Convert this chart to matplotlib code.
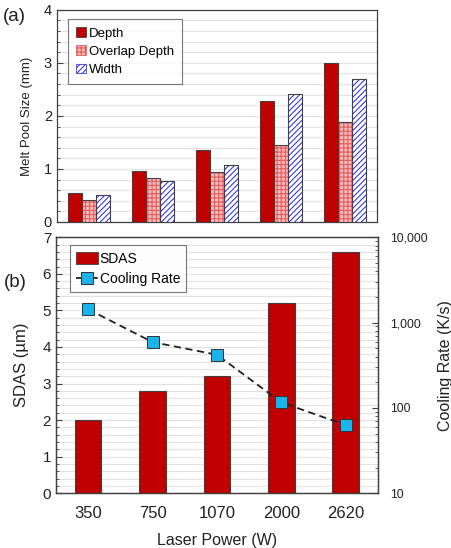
import numpy as np
import matplotlib
matplotlib.use("Agg")
import matplotlib.pyplot as plt
from matplotlib.patches import Patch
from matplotlib.lines import Line2D
from matplotlib.ticker import MultipleLocator, FixedLocator, LogLocator, NullFormatter

plt.rcParams['font.family'] = ['Liberation Sans', 'DejaVu Sans']
plt.rcParams['hatch.linewidth'] = 0.8

# data
power = ["350", "750", "1070", "2000", "2620"]
depth = [0.55, 0.96, 1.35, 2.29, 3.00]
overlap_depth = [0.41, 0.83, 0.94, 1.45, 1.88]
width = [0.50, 0.77, 1.07, 2.41, 2.70]
sdas = [2.0, 2.8, 3.2, 5.2, 6.6]
cooling_rate = [1430, 590, 420, 116, 63]

RED = "#C00000"
PINK = "#F6B8B8"
PINK_H = "#E06060"
BLUE_H = "#3B3BE0"
CYAN = "#1AB4EC"
EDGE = "#404040"
GRID = "#E2E2E2"

fig = plt.figure(figsize=(4.52, 5.48), dpi=100)
ax1 = fig.add_axes([0.126, 0.595, 0.708, 0.387])
ax2 = fig.add_axes([0.124, 0.100, 0.712, 0.467])

x = np.arange(len(power))
bw = 0.22

# (a) melt pool size
ax1.bar(x - bw, depth, bw, color=RED, edgecolor=EDGE, lw=0.8, zorder=3)
ax1.bar(x, overlap_depth, bw, color=PINK, edgecolor=PINK_H, hatch="++++", lw=0, zorder=3)
ax1.bar(x, overlap_depth, bw, fill=False, edgecolor=EDGE, lw=0.8, zorder=4)
ax1.bar(x + bw, width, bw, color="white", edgecolor=BLUE_H, hatch="//////", lw=0, zorder=3)
ax1.bar(x + bw, width, bw, fill=False, edgecolor=EDGE, lw=0.8, zorder=4)

ax1.set_xlim(-0.5, 4.5)
ax1.set_ylim(0, 4)
ax1.set_xticks([])
ax1.yaxis.set_major_locator(MultipleLocator(1))
ax1.yaxis.set_minor_locator(MultipleLocator(0.2))
ax1.grid(True, which="both", axis="y", color=GRID, lw=0.8, zorder=0)
ax1.tick_params(axis="y", which="both", direction="in", labelsize=10.5, colors=EDGE,
                labelcolor="#222222")
ax1.tick_params(axis="y", which="major", length=4)
ax1.tick_params(axis="y", which="minor", length=2.5)
ax1.set_ylabel("Melt Pool Size (mm)", fontsize=9.5, color="#222222", labelpad=8)
for s in ax1.spines.values():
    s.set_color(EDGE)
    s.set_linewidth(0.9)

h1 = [Patch(facecolor=RED, edgecolor=EDGE, lw=0.6),
      Patch(facecolor=PINK, edgecolor=PINK_H, hatch="++++", lw=0.6),
      Patch(facecolor="white", edgecolor=BLUE_H, hatch="//////", lw=0.6)]
leg1 = ax1.legend(h1, ["Depth", "Overlap Depth", "Width"], loc="upper left",
                  bbox_to_anchor=(0.036, 0.955), borderaxespad=0, fontsize=9.5,
                  frameon=True, fancybox=False, edgecolor="#555555",
                  handlelength=0.7, handleheight=0.7, handletextpad=0.25,
                  labelspacing=0.45, borderpad=0.6)
leg1.get_frame().set_linewidth(0.8)

# (b) SDAS and cooling rate
ax2.bar(x, sdas, 0.41, color=RED, edgecolor=EDGE, lw=0.8, zorder=3)
ax2.set_xlim(-0.5, 4.5)
ax2.set_ylim(0, 7)
ax2.set_xticks(x)
ax2.set_xticklabels(power)
ax2.yaxis.set_major_locator(MultipleLocator(1))
ax2.yaxis.set_minor_locator(MultipleLocator(0.2))
ax2.grid(True, which="both", axis="y", color=GRID, lw=0.8, zorder=0)
ax2.tick_params(axis="x", length=0, labelsize=12, pad=9, labelcolor="#222222")
ax2.tick_params(axis="y", which="both", direction="in", labelsize=11, colors=EDGE,
                labelcolor="#222222")
ax2.tick_params(axis="y", which="major", length=4)
ax2.tick_params(axis="y", which="minor", length=2.5)
ax2.set_ylabel("SDAS (µm)", fontsize=12, color="#222222", labelpad=10)
ax2.set_xlabel("Laser Power (W)", fontsize=11.5, color="#222222", labelpad=9)
for s in ax2.spines.values():
    s.set_color(EDGE)
    s.set_linewidth(0.9)

ax3 = ax2.twinx()
ax3.set_yscale("log")
ax3.set_ylim(10, 10000)
ax3.plot(x, cooling_rate, ls=(0, (4, 2.5)), color="#222222", lw=1.3, marker="s",
         ms=8.5, mfc=CYAN, mec="#333333", mew=0.7, zorder=5)
ax3.yaxis.set_major_locator(FixedLocator([10, 100, 1000, 10000]))
ax3.set_yticklabels(["10", "100", "1,000", "10,000"])
ax3.yaxis.set_minor_locator(LogLocator(base=10, subs=np.arange(2, 10)))
ax3.yaxis.set_minor_formatter(NullFormatter())
ax3.tick_params(axis="y", which="both", direction="in", labelsize=8.8, colors=EDGE,
                labelcolor="#222222", pad=9)
ax3.tick_params(axis="y", which="major", length=4)
ax3.tick_params(axis="y", which="minor", length=2.5)
ax3.set_ylabel("Cooling Rate (K/s)", fontsize=11.5, color="#222222", labelpad=7)
for s in ax3.spines.values():
    s.set_color(EDGE)
    s.set_linewidth(0.9)

h2 = [Patch(facecolor=RED, edgecolor=EDGE, lw=0.6),
      Line2D([], [], ls=(0, (3, 1.5)), color="#222222", lw=1.3, marker="s", ms=8,
             mfc=CYAN, mec="#333333", mew=0.7)]
leg2 = ax3.legend(h2, ["SDAS", "Cooling Rate"], loc="upper left",
                  bbox_to_anchor=(0.043, 0.968), borderaxespad=0, fontsize=10,
                  frameon=True, fancybox=False, edgecolor="#555555",
                  handlelength=1.6, handleheight=0.9, handletextpad=0.1,
                  labelspacing=0.45, borderpad=0.45)
leg2.get_frame().set_linewidth(0.8)

fig.text(0.006, 0.97, "(a)", fontsize=13.5, va="center", ha="left", color="#222222")
fig.text(0.008, 0.485, "(b)", fontsize=13.5, va="center", ha="left", color="#222222")

fig.savefig("out.png", dpi=100)
